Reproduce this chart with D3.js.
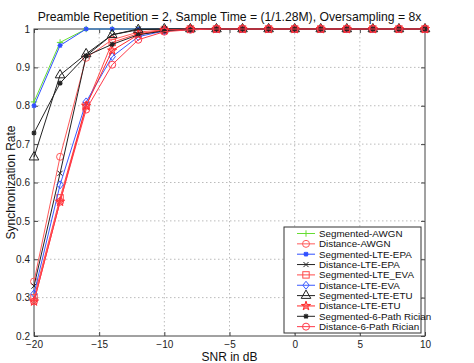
<!DOCTYPE html>
<html>
<head>
<meta charset="utf-8">
<script src="https://cdn.jsdelivr.net/npm/d3@7"></script>
<style>
  body { margin: 0; background: #fff; }
  svg { display: block; font-family: "Liberation Sans", Arial, sans-serif; }
</style>
</head>
<body>
<svg id="chart"></svg>
<script>
// SNR points (dB)
const snr = [-20, -18, -16, -14, -12, -10, -8, -6, -4, -2, 0, 2, 4, 6, 8, 10];

const segAWGN   = [0.810, 0.965, 1, 1, 1, 1, 1, 1, 1, 1, 1, 1, 1, 1, 1, 1];
const distAWGN  = [0.342, 0.667, 0.925, 0.972, 0.992, 0.998, 1, 1, 1, 1, 1, 1, 1, 1, 1, 1];
const segEPA    = [0.800, 0.957, 1, 1, 1, 1, 1, 1, 1, 1, 1, 1, 1, 1, 1, 1];
const distEPA   = [0.330, 0.624, 0.930, 0.985, 1, 1, 1, 1, 1, 1, 1, 1, 1, 1, 1, 1];
const segEVA    = [0.300, 0.560, 0.800, 0.965, 0.988, 0.997, 1, 1, 1, 1, 1, 1, 1, 1, 1, 1];
const distEVA   = [0.310, 0.594, 0.810, 0.928, 0.980, 0.995, 1, 1, 1, 1, 1, 1, 1, 1, 1, 1];
const segETU    = [0.666, 0.880, 0.935, 0.985, 0.998, 1, 1, 1, 1, 1, 1, 1, 1, 1, 1, 1];
const distETU   = [0.290, 0.550, 0.800, 0.944, 0.985, 0.997, 1, 1, 1, 1, 1, 1, 1, 1, 1, 1];
const seg6Path  = [0.729, 0.859, 0.930, 0.960, 0.985, 0.995, 0.998, 1, 1, 1, 1, 1, 1, 1, 1, 1];
const dist6Path = [0.290, 0.550, 0.790, 0.907, 0.972, 0.993, 0.998, 1, 1, 1, 1, 1, 1, 1, 1, 1];

const xTicks = [-20, -15, -10, -5, 0, 5, 10];
const yTicks = [0.2, 0.3, 0.4, 0.5, 0.6, 0.7, 0.8, 0.9, 1];

const series = [
  {name: 'Segmented-AWGN',          vals: segAWGN,   color: '#66dd33', mk: 'plus'},
  {name: 'Distance-AWGN',           vals: distAWGN,  color: '#ff5a5a', mk: 'circle'},
  {name: 'Segmented-LTE-EPA',       vals: segEPA,    color: '#2f4fff', mk: 'aster'},
  {name: 'Distance-LTE-EPA',        vals: distEPA,   color: '#222',    mk: 'cross'},
  {name: 'Segmented-LTE_EVA',       vals: segEVA,    color: '#ff4a4a', mk: 'square'},
  {name: 'Distance-LTE-EVA',        vals: distEVA,   color: '#3a5aff', mk: 'diamond'},
  {name: 'Segmented-LTE-ETU',       vals: segETU,    color: '#222',    mk: 'triangle'},
  {name: 'Distance-LTE-ETU',        vals: distETU,   color: '#ff2a2a', mk: 'star'},
  {name: 'Segmented-6-Path Rician', vals: seg6Path,  color: '#222',    mk: 'aster'},
  {name: 'Distance-6-Path Rician',  vals: dist6Path, color: '#ff3a4a', mk: 'circle'}
];

const W = 474, H = 363;
const margin = {top: 29, right: 49, bottom: 27, left: 34};
const width = W - margin.left - margin.right;
const height = H - margin.top - margin.bottom;

const svg = d3.select('#chart').attr('width', W).attr('height', H);
svg.append('rect').attr('width', W).attr('height', H).attr('fill', '#fff');
const g = svg.append('g').attr('transform', `translate(${margin.left},${margin.top})`);

const x = d3.scaleLinear().domain([-20, 10]).range([0, width]);
const y = d3.scaleLinear().domain([0.2, 1]).range([height, 0]);

// grid
g.append('g').selectAll('line').data(xTicks.slice(1, -1)).join('line')
  .attr('x1', d => x(d)).attr('x2', d => x(d)).attr('y1', 0).attr('y2', height)
  .attr('stroke', '#bbb').attr('stroke-width', 1).attr('stroke-dasharray', '1.5,2.5');
g.append('g').selectAll('line').data(yTicks.slice(1, -1)).join('line')
  .attr('y1', d => y(d)).attr('y2', d => y(d)).attr('x1', 0).attr('x2', width)
  .attr('stroke', '#bbb').attr('stroke-width', 1).attr('stroke-dasharray', '1.5,2.5');

// axes with inward ticks (matlab style)
const axCol = '#444';
function styleAxis(sel) {
  sel.select('.domain').remove();
  sel.selectAll('line').attr('stroke', axCol);
  sel.selectAll('text').attr('fill', '#222').style('font-size', '10px');
}
g.append('g').attr('transform', `translate(0,${height})`)
  .call(d3.axisBottom(x).tickValues(xTicks).tickSize(-4).tickPadding(5).tickFormat(d3.format('d')))
  .call(styleAxis);
g.append('g')
  .call(d3.axisTop(x).tickValues(xTicks).tickSize(-4).tickFormat(''))
  .call(styleAxis);
g.append('g')
  .call(d3.axisLeft(y).tickValues(yTicks).tickSize(-4).tickPadding(4).tickFormat(d => d === 1 ? '1' : d3.format('.1f')(d)))
  .call(styleAxis);
g.append('g').attr('transform', `translate(${width},0)`)
  .call(d3.axisRight(y).tickValues(yTicks).tickSize(-4).tickFormat(''))
  .call(styleAxis);
g.append('rect').attr('width', width).attr('height', height)
  .attr('fill', 'none').attr('stroke', axCol).attr('stroke-width', 1);

// markers
function drawMarker(sel, type, color, cx, cy) {
  const m = sel.append('g').attr('transform', `translate(${cx},${cy})`)
    .attr('fill', 'none').attr('stroke', color).attr('stroke-width', 1);
  const r = 3.2;
  if (type === 'plus') {
    m.append('path').attr('d', `M${-r},0H${r}M0,${-r}V${r}`);
  } else if (type === 'cross') {
    m.append('path').attr('d', `M${-r*0.8},${-r*0.8}L${r*0.8},${r*0.8}M${-r*0.8},${r*0.8}L${r*0.8},${-r*0.8}`);
  } else if (type === 'aster') {
    m.append('path').attr('d', `M${-r*0.8},0H${r*0.8}M0,${-r*0.8}V${r*0.8}M${-r*0.6},${-r*0.6}L${r*0.6},${r*0.6}M${-r*0.6},${r*0.6}L${r*0.6},${-r*0.6}`)
      .attr('stroke-width', 1.2);
    m.append('circle').attr('r', 1.6).attr('fill', color).attr('stroke', 'none');
  } else if (type === 'circle') {
    m.append('circle').attr('r', r + 0.3);
  } else if (type === 'square') {
    m.append('rect').attr('x', -r).attr('y', -r).attr('width', 2 * r).attr('height', 2 * r);
  } else if (type === 'diamond') {
    m.append('path').attr('d', `M0,${-r-0.8}L${r},0L0,${r+0.8}L${-r},0Z`);
  } else if (type === 'triangle') {
    m.append('path').attr('d', d3.symbol(d3.symbolTriangle, 40)());
  } else if (type === 'star') {
    m.append('path').attr('d', d3.symbol(d3.symbolStar, 26)()).attr('fill', color).attr('fill-opacity', 0.45);
  }
}

const line = d3.line().x((d, i) => x(snr[i])).y(d => y(d));
series.forEach(s => {
  const sg = g.append('g');
  sg.append('path').datum(s.vals).attr('fill', 'none').attr('stroke', s.color)
    .attr('stroke-width', 1).attr('d', line);
  s.vals.forEach((v, i) => drawMarker(sg, s.mk, s.color, x(snr[i]), y(v)));
});

// legend
const lg = svg.append('g').attr('transform', 'translate(284,227)');
lg.append('rect').attr('width', 137).attr('height', 106)
  .attr('fill', '#fff').attr('stroke', '#333').attr('stroke-width', 1);
series.forEach((s, i) => {
  const ly = 6.5 + i * 10.35;
  lg.append('line').attr('x1', 13).attr('x2', 31).attr('y1', ly).attr('y2', ly)
    .attr('stroke', s.color).attr('stroke-width', 1);
  drawMarker(lg, s.mk, s.color, 22, ly);
  lg.append('text').attr('x', 35).attr('y', ly).attr('dy', '0.35em')
    .style('font-size', '9.8px').attr('fill', '#111').text(s.name);
});

// labels
svg.append('text').attr('x', margin.left + width / 2).attr('y', 21)
  .attr('text-anchor', 'middle').style('font-size', '12.2px').attr('fill', '#111')
  .text('Preamble Repetition = 2, Sample Time = (1/1.28M), Oversampling = 8x');
svg.append('text').attr('x', margin.left + width / 2).attr('y', 361)
  .attr('text-anchor', 'middle').style('font-size', '12px').attr('fill', '#111')
  .text('SNR in dB');
svg.append('text').attr('transform', `translate(15,${margin.top + height / 2}) rotate(-90)`)
  .attr('text-anchor', 'middle').style('font-size', '12px').attr('fill', '#111')
  .text('Synchronization Rate');
</script>
</body>
</html>
